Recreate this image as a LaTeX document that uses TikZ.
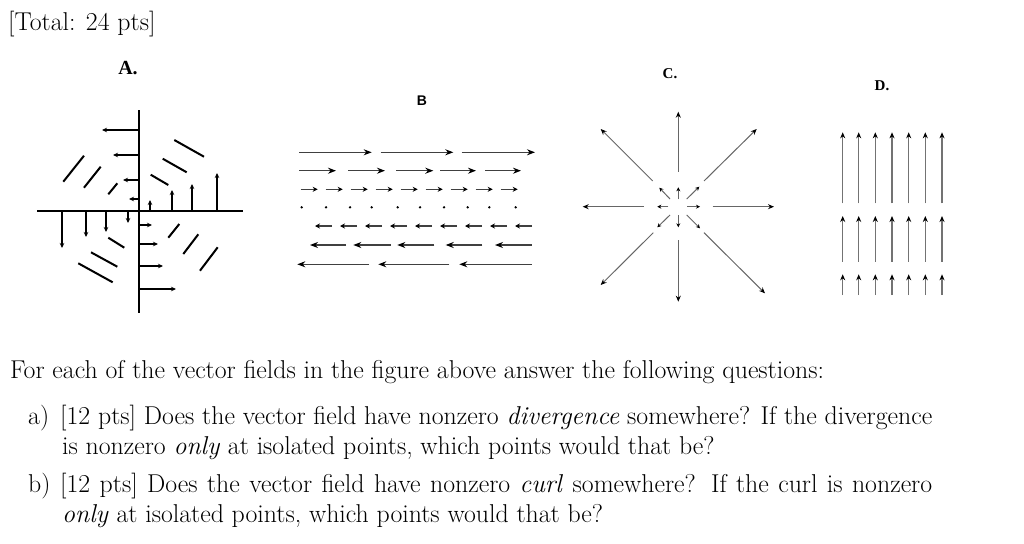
\documentclass[tikz,border=0pt]{standalone}
\usepackage{fontspec}
\newfontfamily\tnr{Liberation Serif}
\newfontfamily\ari{Liberation Sans}
\usetikzlibrary{arrows.meta}
\tikzset{
 txt/.style={anchor=base west,inner sep=0pt,font=\fontsize{25.8}{30}\selectfont},
 ax/.style={line width=2pt},
 va/.style={line width=1.6pt,-{Stealth[length=5pt,width=4.5pt]}},
 seg/.style={line width=2pt},
 ba/.style={line width=1.2pt,black!75,-{Stealth[length=8pt,width=6pt,black]}},
 ca/.style={line width=1pt,black!60,-{Stealth[length=6pt,width=5pt,black]}},
 da/.style={line width=1.2pt,black!55,-{Stealth[length=6pt,width=5pt,black]}},
 lab/.style={inner sep=0pt,font=\tnr\bfseries\fontsize{15}{17}\selectfont}
}
\begin{document}
\begin{tikzpicture}[x=1pt,y=-1pt]
\useasboundingbox (0,0) rectangle (1024,543);
\node[txt] (tot) at (8,31) {[Total: 24 pts]};
\node[lab,font=\tnr\bfseries\fontsize{20}{22}\selectfont] (la) at (128,68) {A.};
\node[lab,font=\ari\bfseries\fontsize{14}{16}\selectfont] (lb) at (422,101) {B};
\node[lab] (lc) at (670,74) {C.};
\node[lab] (ld) at (882,86) {D.};
% A
\draw[ax] (37,211) -- (243,211);
\draw[ax] (139.3,110) -- (139.3,313);
\foreach \y/\t in {130/102,155/113,180/123,199/129} \draw[va] (139.3,\y) -- (\t,\y);
\foreach \x/\t in {150/200,172/190,192/184,217/173} \draw[va] (\x,211) -- (\x,\t);
\foreach \x/\t in {62/248,86/237,106/232,128/223} \draw[va] (\x,211) -- (\x,\t);
\foreach \y/\t in {225/152,244/158,266/163,289/176} \draw[va] (139.3,\y) -- (\t,\y);
\draw[seg] (63.3,181.7)--(84,155.7) (84,187.7)--(100.7,166.7) (108.3,194.3)--(117.3,183.3);
\draw[seg] (174.3,140)--(204,156.7) (162.7,158.7)--(186.7,172.3) (150.7,174.7)--(168.3,185);
\draw[seg] (168.3,237.7)--(179.3,224) (183.3,254)--(198.3,234.3) (200,270.7)--(217.7,247.3);
\draw[seg] (108.3,237.7)--(124.3,247.7) (91,252.3)--(117.3,266.7) (78.3,263.3)--(112.7,282.3);
% B
\foreach \a/\b in {299.3/371.7,380.7/453.3,461.7/535} \draw[ba] (\a,152.3) -- (\b,152.3);
\foreach \a/\b in {299.3/336,348.3/385,396/433.3,440/476,485/521} \draw[ba] (\a,170.7) -- (\b,170.7);
\foreach \k in {0,...,8} \draw[ba,-{Stealth[length=5pt,width=5pt,black]}] (300.7+25*\k,189.3) -- (317.7+25*\k,189.3);
\foreach \x in {301.7,326,350,371.7,397.7,420,444,467.7,489.3,515.7} \fill (\x,207.3) circle (1.3pt);
\foreach \k in {0,...,8} \draw[ba,-{Stealth[length=5pt,width=5pt,black]}] (332+25*\k,226) -- (315+25*\k,226);
\foreach \a/\b in {346/310,390.7/353.3,434.3/397.3,482.3/445.7,531.7/495} \draw[ba] (\a,245) -- (\b,245);
\foreach \a/\b in {369/297.3,449.3/378.3,531.7/459.3} \draw[ba] (\a,264.3) -- (\b,264.3);
% C
\draw[ca] (678.3,171.7)--(678.3,111.7);
\draw[ca] (678.3,240)--(678.3,301.7);
\draw[ca] (644,206.7)--(582.7,206.7);
\draw[ca] (712.7,206.7)--(774,206.7);
\draw[ca] (652.7,181)--(600.7,129);
\draw[ca] (704,181)--(756.7,129);
\draw[ca] (653.3,232.7)--(600.7,285);
\draw[ca] (704,232.7)--(765,293.3);
\begin{scope}[ca/.append style={-{Stealth[length=4pt,width=4pt,black]}}]
\draw[ca] (678.3,199.3)--(678.3,187.3);
\draw[ca] (678.3,215)--(678.3,227.3);
\draw[ca] (668.3,206.7)--(657.3,206.7);
\draw[ca] (687,206.7)--(700,206.7);
\draw[ca] (670,199)--(659.3,187.7);
\draw[ca] (686.7,199)--(699.3,186.7);
\draw[ca] (670,215)--(657.3,227.3);
\draw[ca] (686.7,215)--(700,228.3);
\end{scope}
% D
\foreach \x in {842.7,858.7,875.3,892,908.7,925.3,942} {
 \draw[da] (\x,203.3)--(\x,132.3);
 \draw[da] (\x,261.7)--(\x,216);
 \draw[da] (\x,295)--(\x,274.3);
}
% text
\node[txt] (q) at (10,378) {For each of the vector fields in the figure above answer the following questions:};
\node[txt] (am) at (28,424) {a)};
\node[txt] (a1) at (60,424) {\makebox[872pt][s]{[12 pts] Does the vector field have nonzero \emph{divergence} somewhere? If the divergence}};
\node[txt] (a2) at (62,454) {is nonzero \emph{only} at isolated points, which points would that be?};
\node[txt] (bm) at (28,492) {b)};
\node[txt] (b1) at (60,492) {\makebox[872pt][s]{[12 pts] Does the vector field have nonzero \emph{curl} somewhere? If the curl is nonzero}};
\node[txt] (b2) at (62,522) {\emph{only} at isolated points, which points would that be?};
\end{tikzpicture}
\end{document}
